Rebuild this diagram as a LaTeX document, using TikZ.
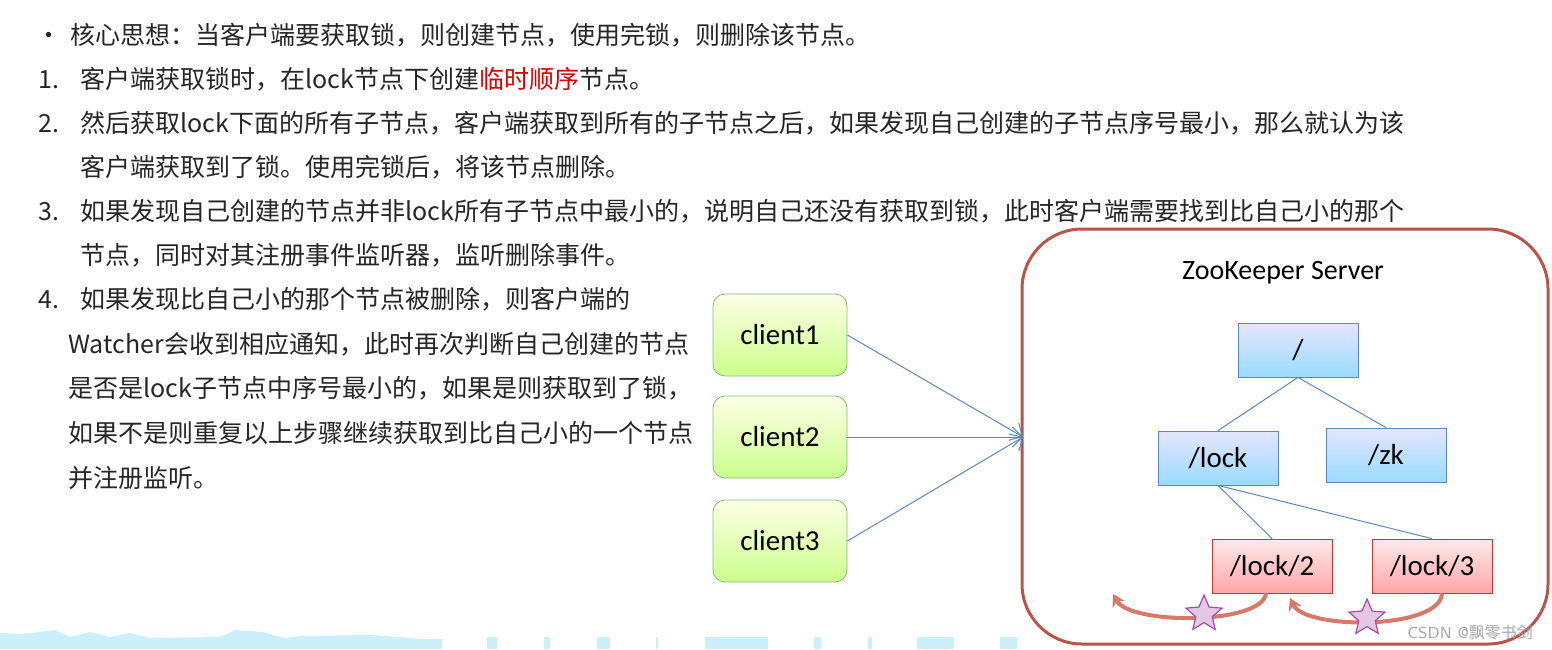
\documentclass[tikz,border=0pt]{standalone}
\usepackage{fontspec}
\setmainfont{Carlito}
\newfontfamily\cjk{Noto Sans CJK SC}
\usetikzlibrary{shapes.geometric,arrows.meta}
\definecolor{srv}{RGB}{185,85,72}
\definecolor{lnk}{RGB}{95,135,195}
\definecolor{crv}{RGB}{215,120,105}
\begin{document}
\begin{tikzpicture}[x=0.5pt,y=-0.5pt,
  txt/.style={anchor=base west,inner sep=0,font=\cjk\fontsize{12.5}{14}\selectfont,text=black!85},
  client/.style={draw=green!45!black!50,rounded corners=6pt,top color=green!8!yellow!10,bottom color=green!45!yellow!45,minimum width=67pt,minimum height=41pt,font=\fontsize{14.5}{16}\selectfont},
  bnode/.style={draw=lnk,top color=blue!10,bottom color=blue!35!cyan!40,minimum width=60pt,minimum height=27pt,inner sep=0,font=\fontsize{14.5}{16}\selectfont},
  rnode/.style={draw=red!55!gray,top color=red!8,bottom color=red!35,minimum width=60pt,minimum height=27pt,inner sep=0,font=\fontsize{14.5}{16}\selectfont},
  conn/.style={draw=lnk,line width=0.5pt},
  curv/.style={draw=crv,line width=2pt,-{Stealth[length=6pt,width=7pt]}},
  starn/.style={star,star points=5,star point ratio=2.2,draw=violet!70,fill=violet!22,minimum size=19pt,inner sep=0,line width=0.6pt}]
\useasboundingbox (0,0) rectangle (1552,649);
\fill[white] (0,0) rectangle (1552,649);
% bottom background strip
\fill[cyan!20] (0,633) -- (20,634) -- (40,632) -- (55,630) -- (70,637) -- (90,632) -- (110,637) -- (130,633) -- (150,638) -- (220,637) -- (235,630) -- (262,632) -- (285,638) -- (300,636) -- (370,635) -- (400,637) -- (420,639) -- (442,639) -- (442,649) -- (0,649) -- cycle;
\foreach \a/\b in {487/497,544/550,597/610,656/658,705/768,814/821,868/872,917/954,1000/1017}{\fill[cyan!20] (\a,637) rectangle (\b,649);}
% left text
\node[txt] (b0) at (36,44) {•};
\node[txt] (l0) at (70,44) {核心思想：当客户端要获取锁，则创建节点，使用完锁，则删除该节点。};
\node[txt] (n1) at (38,88) {1.};
\node[txt] (l1) at (80,88) {客户端获取锁时，在lock节点下创建{\color{red!85!black}临时顺序}节点。};
\node[txt] (n2) at (38,132) {2.};
\node[txt] (l2) at (80,132) {然后获取lock下面的所有子节点，客户端获取到所有的子节点之后，如果发现自己创建的子节点序号最小，那么就认为该};
\node[txt] (l2b) at (80,176) {客户端获取到了锁。使用完锁后，将该节点删除。};
\node[txt] (n3) at (38,220) {3.};
\node[txt] (l3) at (80,220) {如果发现自己创建的节点并非lock所有子节点中最小的，说明自己还没有获取到锁，此时客户端需要找到比自己小的那个};
\node[txt] (l3b) at (80,264) {节点，同时对其注册事件监听器，监听删除事件。};
\node[txt] (n4) at (38,308) {4.};
\node[txt] (l4) at (80,308) {如果发现比自己小的那个节点被删除，则客户端的};
\node[txt] (l4b) at (68,353) {Watcher会收到相应通知，此时再次判断自己创建的节点};
\node[txt] (l4c) at (68,397) {是否是lock子节点中序号最小的，如果是则获取到了锁，};
\node[txt] (l4d) at (68,442) {如果不是则重复以上步骤继续获取到比自己小的一个节点};
\node[txt] (l4e) at (68,487) {并注册监听。};
% clients
\node[client] (c1) at (780,335) {client1};
\node[client] (c2) at (780,437) {client2};
\node[client] (c3) at (780,541) {client3};
% server
\draw[draw=srv,line width=1.5pt,rounded corners=30pt] (1022,229) rectangle (1548,644);
\node[font=\fontsize{14}{16}\selectfont] (srvt) at (1283,273) {ZooKeeper Server};
\coordinate (sin) at (1023,437);
\foreach \c in {c1,c2,c3}{\draw[conn,-{Straight Barb[length=5pt]}] (\c.east) -- (sin);}
\node[bnode] (root) at (1298,350) {/};
\node[bnode] (lock) at (1218,458) {/lock};
\node[bnode] (zk) at (1386,455) {/zk};
\node[rnode] (l2n) at (1272,566) {/lock/2};
\node[rnode] (l3n) at (1432,566) {/lock/3};
\draw[conn] (root.south) -- (lock.north);
\draw[conn] (root.south) -- (zk.north);
\draw[conn] (lock.south) -- (l2n.north);
\draw[conn] (lock.south) -- (l3n.north);
\draw[curv] ([xshift=-3pt]l2n.south) .. controls (1262,625) and (1130,625) .. (1113,594);
\draw[curv] ([xshift=5pt]l3n.south) .. controls (1440,630) and (1305,630) .. (1290,598);
\node[starn] (s1) at (1204,614) {};
\node[starn] (s2) at (1367,618) {};
\node[font=\sffamily\fontsize{8}{9}\selectfont,text=gray!70,anchor=east] (wm) at (1540,632) {CSDN @{\cjk 飘零书剑}};
\end{tikzpicture}
\end{document}
